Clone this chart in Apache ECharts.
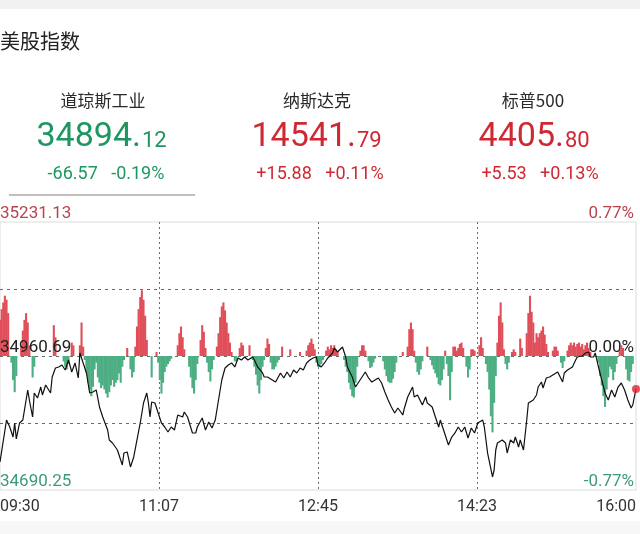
<!DOCTYPE html>
<html><head><meta charset="utf-8">
<script src="https://cdn.jsdelivr.net/npm/echarts@6/dist/echarts.min.js"></script>
<style>html,body{margin:0;padding:0;background:#fff;}#c{width:640px;height:534px;}</style>
</head><body><div id="c"></div>
<script>
// ---- data ----
const timeLabels = ['09:30', '11:07', '12:45', '14:23', '16:00'];
const priceLabels = ['34690.25', '34960.69', '35231.13'];
const pctLabels = ['-0.77%', '0.00%', '0.77%'];

const indexNames = ['道琼斯工业', '纳斯达克', '标普500'];
const indexInts = ['34894.', '14541.', '4405.'];
const indexDecs = ['12', '79', '80'];
const indexChanges = ['-66.57', '+15.88', '+5.53'];
const indexPcts = ['-0.19%', '+0.11%', '+0.13%'];
const indexUp = [false, true, true];

// minutes after 09:30 and Dow price at that minute
const lineMinutes = [0,4,6,8,9,10,12,14,17,18,20,21,23,25,26,28,31,32,34,36,38,40,42,44,46,48,49,51,53,55,57,59,61,63,66,67,69,72,75,76,78,80,82,84,86,88,90,91,92,93,95,97,99,101,103,105,107,109,112,113,115,118,120,121,124,126,128,130,132,134,136,138,140,142,144,146,148,150,152,155,156,158,161,162,164,167,169,170,172,174,176,178,180,182,184,186,188,190,192,194,195,197,199,201,204,205,207,210,212,213,216,218,220,222,224,226,228,230,232,234,236,238,240,242,244,247,248,250,253,254,256,259,261,262,265,267,269,270,272,274,275,277,279,281,283,285,287,289,291,293,296,297,299,302,303,304,305,308,310,311,313,315,316,318,319,321,323,324,327,329,330,332,333,335,337,339,342,343,345,346,348,351,353,354,357,359,361,362,364,365,367,369,371,373,375,377,379,381,383,385,387,388,390];
const linePrices = [34746.8,34831.5,34817.4,34797.2,34825.5,34793.2,34825.5,34831.5,34892.1,34871.9,34837.6,34886.0,34875.9,34898.1,34882.0,34902.2,34886.0,34918.3,34936.5,34938.5,34942.5,34932.4,34952.6,34928.4,34946.6,34916.3,34966.8,34946.6,34926.4,34886.0,34888.0,34892.1,34857.8,34837.6,34811.4,34791.2,34785.1,34771.0,34740.7,34764.9,34767.0,34736.7,34756.9,34791.2,34825.5,34865.8,34886.0,34865.8,34837.6,34867.9,34865.8,34845.7,34825.5,34817.4,34807.3,34817.4,34811.4,34841.6,34837.6,34847.7,34837.6,34805.3,34805.3,34817.4,34835.6,34811.4,34827.5,34815.4,34831.5,34871.9,34912.3,34936.5,34942.5,34946.6,34938.5,34956.7,34952.6,34958.7,34952.6,34958.7,34952.6,34938.5,34926.4,34918.3,34918.3,34912.3,34908.2,34908.2,34926.4,34916.3,34928.4,34918.3,34932.4,34926.4,34936.5,34932.4,34946.6,34952.6,34956.7,34958.7,34942.5,34938.5,34946.6,34956.7,34966.8,34976.8,34968.8,34978.9,34958.7,34938.5,34918.3,34898.1,34908.2,34918.3,34928.4,34916.3,34908.2,34912.3,34916.3,34906.2,34888.0,34871.9,34857.8,34845.7,34855.8,34841.6,34855.8,34878.0,34898.1,34878.0,34882.0,34861.8,34878.0,34865.8,34857.8,34837.6,34817.4,34831.5,34811.4,34791.2,34781.1,34797.2,34805.3,34817.4,34807.3,34817.4,34795.2,34815.4,34805.3,34825.5,34831.5,34817.4,34764.9,34716.5,34730.6,34771.0,34785.1,34791.2,34785.1,34764.9,34791.2,34785.1,34797.2,34777.0,34791.2,34771.0,34831.5,34865.8,34871.9,34882.0,34898.1,34908.2,34896.1,34916.3,34918.3,34922.4,34928.4,34932.4,34908.2,34926.4,34932.4,34938.5,34952.6,34958.7,34960.7,34966.8,34968.8,34958.7,34958.7,34966.8,34938.5,34912.3,34886.0,34871.9,34892.1,34878.0,34898.1,34906.2,34892.1,34871.9,34855.8,34861.8,34894.12];

// red/green flow bars: [start minute, values for consecutive minutes]
const flowRuns = [
  [0, [27,35,40,45,42,32]],
  [7, [-5,-18,-27,-15]],
  [13, [7,19,27,32,25,8]],
  [20, [-16,-8]],
  [33, [23,14]],
  [39, [-4,-8,-10,-6]],
  [44, [10,8]],
  [49, [8,25,7]],
  [52, [-3,-12,-20,-25,-30,-23,-10,-5,-16,-20,-24,-22,-25,-28,-31,-27,-22,-18,-23,-20,-18,-13,-20,-8,-3]],
  [78, [6]],
  [80, [-10,-16,-12]],
  [83, [7,22,35,44,49,42,30,12]],
  [93, [-16]],
  [96, [3]],
  [97, [-5,-18,-28,-20,-12,-8,-6,-4,-2]],
  [109, [8,17,22,14,5]],
  [116, [-8,-16,-24,-28,-18,-6]],
  [123, [12,23,18,6]],
  [127, [-5,-12,-19,-10]],
  [131, [-3]],
  [133, [7,17,29,37,40,34,25,17,10,3]],
  [144, [-4,-4]],
  [147, [6,10,8]],
  [153, [8]],
  [155, [-3,-8,-14,-22,-28,-18,-8,-3]],
  [163, [6,13,9]],
  [166, [-5,-10,-10,-8,-5,-3]],
  [173, [7]],
  [178, [5]],
  [184, [3]],
  [188, [4,8,10,13,9,5]],
  [194, [-5,-8,-8,-6,-3]],
  [200, [4,7,5,8,6,8,5,3]],
  [211, [-3,-8,-12,-20,-25,-30,-31,-20,-8]],
  [221, [4,8,8,4]],
  [226, [-4,-9,-8,-5,-2]],
  [235, [-4,-10,-15,-19,-20,-20,-17,-12,-5]],
  [247, [3]],
  [250, [7,20,25,20,4]],
  [255, [-5,-12,-14,-10,-4]],
  [262, [7]],
  [264, [-3,-7,-10,-13,-16,-21,-22,-18,-10]],
  [273, [4]],
  [274, [-6,-15,-33,-12]],
  [278, [7,7,4,6,9,10,6]],
  [286, [-8,-16,-10]],
  [289, [5,5,4]],
  [294, [8,14,6]],
  [298, [-6,-12,-25,-45,-57,-35,-15]],
  [305, [10,30,40,25,5]],
  [310, [-6,-10,-5]],
  [314, [3,5,3]],
  [319, [13,6]],
  [323, [17,32,45,33,25,10,17,14,17,19,22,16,9,3]],
  [339, [4,7,7,4]],
  [344, [-5,-9,-4]],
  [348, [4,8,10,8,10,7,9,10,7,9,5,8,10,6,3]],
  [367, [-5,-15,-22,-30,-38,-25,-16,-8]],
  [375, [-10,-18,-12,-6]],
  [380, [4,8,6]],
  [384, [-10,-18,-19,-12,-6]]
];

// ---- build ----
const priceMin = parseFloat(priceLabels[0]);
const priceMax = parseFloat(priceLabels[2]);
const pctMin = parseFloat(pctLabels[0]);
const pctMax = parseFloat(pctLabels[2]);
const priceStep = (priceMax - priceMin) / 4;
const xStep = 97.5;

const lineData = lineMinutes.map((m, i) => [m, linePrices[i]]);
const barData = [];
flowRuns.forEach(([s, vals]) => vals.forEach((v, i) => barData.push([s + i, v])));
const lastPoint = lineData[lineData.length - 1];

const RED = '#d02833', GREEN = '#1f9660';
const CJK = '"Noto Sans CJK SC", sans-serif';
const NUM = 'Roboto, sans-serif';

const centers = [103, 317, 533];
const splits = [141, 356, 564];
const chgCenters = [106, 320, 540];
const graphic = [
  {type: 'rect', shape: {x: 0, y: 0, width: 640, height: 9}, style: {fill: '#f1f1f1'}, silent: true},
  {type: 'rect', shape: {x: 0, y: 521, width: 640, height: 13}, style: {fill: '#f7f7f7'}, silent: true},
  {type: 'text', style: {text: '美股指数', x: 0, y: 41, fill: '#222', font: '20px ' + CJK, align: 'left', verticalAlign: 'middle', textAlign: 'left', textVerticalAlign: 'middle'}},
  {type: 'rect', shape: {x: 9, y: 194, width: 186, height: 2}, style: {fill: '#c4bdbd'}, silent: true}
];
indexNames.forEach((n, i) => {
  const col = indexUp[i] ? RED : GREEN;
  graphic.push({type: 'text', style: {text: n, x: centers[i], y: 101, fill: '#2a2a2a', font: '17px ' + CJK, align: 'center', verticalAlign: 'middle', textAlign: 'center', textVerticalAlign: 'middle'}});
  graphic.push({type: 'text', style: {text: indexInts[i], x: splits[i], y: 137.8, fill: col, font: '34px ' + NUM, align: 'right', verticalAlign: 'middle', textAlign: 'right', textVerticalAlign: 'middle'}});
  graphic.push({type: 'text', style: {text: indexDecs[i], x: splits[i] + 1, y: 141.4, fill: col, font: '22px ' + NUM, align: 'left', verticalAlign: 'middle', textAlign: 'left', textVerticalAlign: 'middle'}});
  graphic.push({type: 'text', style: {text: indexChanges[i] + '   ' + indexPcts[i], x: chgCenters[i], y: 174, fill: col, font: '18px ' + NUM, align: 'center', verticalAlign: 'middle', textAlign: 'center', textVerticalAlign: 'middle'}});
});

const labelRich = {
  up: {color: '#b9434c', fontSize: 17, fontFamily: NUM},
  mid: {color: '#222', fontSize: 17, fontFamily: NUM},
  dn: {color: '#3d9a78', fontSize: 17, fontFamily: NUM}
};
const styles = ['dn', 'mid', 'up'];

const option = {
  animation: false,
  backgroundColor: '#ffffff',
  graphic: graphic,
  grid: {left: 0, right: 4, top: 222, bottom: 44, outerBoundsMode: 'none', containLabel: false, show: true, borderColor: '#dcdcdc', borderWidth: 1, backgroundColor: 'transparent'},
  xAxis: {
    type: 'value', min: 0, max: 390, interval: xStep,
    axisLine: {show: false}, axisTick: {show: false},
    splitLine: {show: true, showMinLine: false, showMaxLine: false, lineStyle: {color: '#6a6a6a', type: [2, 3], width: 1}},
    axisLabel: {
      color: '#333', fontSize: 16, fontFamily: NUM, margin: 9,
      showMinLabel: true, showMaxLabel: true, alignMinLabel: 'left', alignMaxLabel: 'right',
      formatter: v => timeLabels[Math.round(v / xStep)] || ''
    }
  },
  yAxis: [
    {
      type: 'value', position: 'left', min: priceMin, max: priceMax, interval: priceStep, z: 5,
      splitLine: {show: false}, axisLine: {show: false}, axisTick: {show: false},
      axisLabel: {
        inside: true, margin: 0, verticalAlign: 'bottom', showMinLabel: true, showMaxLabel: true,
        formatter: v => {
          const k = Math.round((v - priceMin) / priceStep);
          if (k % 2) return '';
          return '{' + styles[k / 2] + '|' + priceLabels[k / 2] + '}';
        },
        rich: labelRich
      }
    },
    {
      type: 'value', position: 'right', min: pctMin, max: pctMax, interval: (pctMax - pctMin) / 4,
      splitLine: {show: true, showMinLine: false, showMaxLine: false, lineStyle: {color: '#6a6a6a', type: [3, 4], width: 1}},
      axisLine: {show: false}, axisTick: {show: false},
      axisLabel: {
        inside: true, margin: 2, verticalAlign: 'bottom', showMinLabel: true, showMaxLabel: true,
        formatter: v => {
          const k = Math.round((v - pctMin) / ((pctMax - pctMin) / 4));
          if (k % 2) return '';
          return '{' + styles[k / 2] + '|' + pctLabels[k / 2] + '}';
        },
        rich: labelRich
      }
    },
    {type: 'value', show: false, min: -100, max: 100, splitLine: {show: false}}
  ],
  series: [
    {
      type: 'bar', yAxisIndex: 2, data: barData, barWidth: 2.1, silent: true, z: 2,
      itemStyle: {color: p => p.value[1] >= 0 ? '#e04f59' : '#4cae82'}
    },
    {
      type: 'line', yAxisIndex: 0, data: lineData, showSymbol: false, silent: true, z: 3,
      lineStyle: {color: '#111', width: 1.2}
    },
    {
      type: 'scatter', yAxisIndex: 0, data: [lastPoint], symbolSize: 8, clip: false, silent: true, z: 4,
      itemStyle: {color: '#e0232d'}
    }
  ]
};
const chart = echarts.init(document.getElementById('c'));
chart.setOption(option);
</script>
</body></html>
